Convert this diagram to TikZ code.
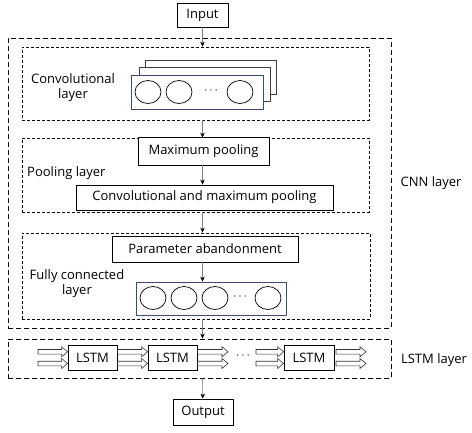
\documentclass[tikz,border=0pt]{standalone}
\usepackage{fontspec}
\setmainfont{Open Sans}
\usetikzlibrary{positioning,arrows.meta,shapes.geometric,calc}
\definecolor{frameColor}{RGB}{62,76,108}
\definecolor{lineColor}{RGB}{125,125,125}
\tikzstyle{diagram} = [x = 1pt, y = -1pt, font=\fontsize{13}{15}\selectfont]
\tikzstyle{outerLayer} = [draw, line width=0.9pt, dash pattern=on 5pt off 3pt, inner sep=0]
\tikzstyle{innerLayer} = [draw, line width=0.7pt, dash pattern=on 3pt off 2pt, inner sep=0]
\tikzstyle{stepBox} = [draw, line width=0.8pt, fill=white, inner sep=0]
\tikzstyle{unitBox} = [draw=frameColor, line width=0.8pt, fill=white, inner sep=0]
\tikzstyle{backFrame} = [draw=black!75, line width=0.8pt, fill=white, inner sep=0]
\tikzstyle{neuron} = [draw, ellipse, line width=0.7pt, minimum width=26, minimum height=23, inner sep=0]
\tikzstyle{flowLine} = [draw=lineColor, line width=0.6pt, -{Stealth[length=5pt, width=4.5pt, color=black]}]
\tikzstyle{hollowLine} = [draw=black!80, line width=0.6pt, line join=miter]
\tikzstyle{layerText} = [align=center, inner sep=0]
\newcommand{\boxNode}[7]{
  \pgfmathsetmacro{\boxX}{(#3 + #5) / 2}
  \pgfmathsetmacro{\boxY}{(#4 + #6) / 2}
  \pgfmathsetmacro{\boxW}{#5 - #3}
  \pgfmathsetmacro{\boxH}{#6 - #4}
  \node[#1, minimum width=\boxW, minimum height=\boxH] (#2) at (\boxX, \boxY) {#7};
}
\newcommand{\neuronAt}[3]{\node[neuron] (#1) at (#2, #3) {};}
\newcommand{\blockArrow}[2]{
  \draw[hollowLine] let \p1 = (#1), \p2 = (#2) in
    (\x1, \y1 + 2.3pt) -- (\x2 - 6pt, \y1 + 2.3pt) -- (\x2 - 6pt, \y1 + 5pt) -- (\x2, \y1)
    -- (\x2 - 6pt, \y1 - 5pt) -- (\x2 - 6pt, \y1 - 2.3pt) -- (\x1, \y1 - 2.3pt) -- cycle;
}
\newcommand{\hollowPair}[2]{
  \blockArrow{[yshift=5.7]#1}{[yshift=5.7]#2}
  \blockArrow{[yshift=-6]#1}{[yshift=-6]#2}
}

\begin{document}
\begin{tikzpicture}[diagram]
  \useasboundingbox (0, 0) rectangle (472, 432);

  \boxNode{outerLayer}{cnnLayer}{8}{38}{391}{328}{}
  \boxNode{innerLayer}{convLayer}{22}{47}{369}{120}{}
  \boxNode{innerLayer}{poolLayer}{22}{138}{369}{212}{}
  \boxNode{innerLayer}{fcLayer}{22}{233}{370}{319}{}
  \boxNode{outerLayer}{lstmLayer}{8}{339}{391}{378}{}

  \boxNode{stepBox}{input}{177}{3}{228}{27}{Input}
  \boxNode{stepBox}{output}{173}{399}{233}{425}{Output}

  \boxNode{backFrame}{convBack}{145}{60}{276}{94}{}
  \boxNode{backFrame}{convMid}{139}{67}{270}{101}{}
  \boxNode{unitBox}{convUnits}{131}{75}{263}{109}{}
  \neuronAt{convA}{148}{92}
  \neuronAt{convB}{179}{92}
  \node (convDots) at (211, 91) {$\cdots$};
  \neuronAt{convC}{240}{92}

  \boxNode{stepBox}{maxPool}{138}{137}{269}{165}{Maximum pooling}
  \boxNode{stepBox}{convMaxPool}{76}{185}{333}{210}{Convolutional and maximum pooling}
  \boxNode{stepBox}{paramDrop}{112}{236}{298}{262}{Parameter abandonment}

  \boxNode{unitBox}{fcUnits}{136}{282}{286}{315}{}
  \neuronAt{fcA}{153}{298}
  \neuronAt{fcB}{184}{298}
  \neuronAt{fcC}{215}{298}
  \node (fcDots) at (240, 297) {$\cdots$};
  \neuronAt{fcD}{268}{298}

  \boxNode{stepBox}{lstmA}{68}{345}{117}{370}{LSTM}
  \boxNode{stepBox}{lstmB}{148}{345}{197}{370}{LSTM}
  \boxNode{stepBox}{lstmC}{284}{345}{334}{370}{LSTM}
  \coordinate (lstmIn) at (38, 357.5);
  \coordinate (lstmGapA) at (228, 357.5);
  \coordinate (lstmGapB) at (256, 357.5);
  \coordinate (lstmEnd) at (336, 357.5);
  \coordinate (lstmOut) at (366, 357.5);
  \node (lstmDots) at (243, 356) {$\cdots$};

  \node[layerText] (convText) at (73, 88) {Convolutional\\layer};
  \node[layerText, anchor=west] (poolText) at (27, 173) {Pooling layer};
  \node[layerText] (fcText) at (77, 284) {Fully connected\\layer};
  \node[layerText] (cnnText) at (431, 183) {CNN layer};
  \node[layerText] (lstmText) at (434, 360) {LSTM layer};

  \draw[flowLine] (input) -- (input |- convLayer.north);
  \draw[flowLine] (convLayer.south -| input) -- (poolLayer.north -| input);
  \draw[flowLine] (maxPool.south -| input) -- (convMaxPool.north -| input);
  \draw[flowLine] (poolLayer.south -| input) -- (fcLayer.north -| input);
  \draw[flowLine] (paramDrop.south -| input) -- (fcUnits.north -| input);
  \draw[flowLine] (fcLayer.south -| input) -- (lstmLayer.north -| input);
  \draw[flowLine] (lstmLayer.south -| input) -- (output);

  \hollowPair{lstmIn}{lstmA.west}
  \hollowPair{lstmA.east}{lstmB.west}
  \hollowPair{lstmB.east}{lstmGapA}
  \hollowPair{lstmGapB}{lstmC.west}
  \hollowPair{lstmEnd}{lstmOut}
\end{tikzpicture}
\end{document}
